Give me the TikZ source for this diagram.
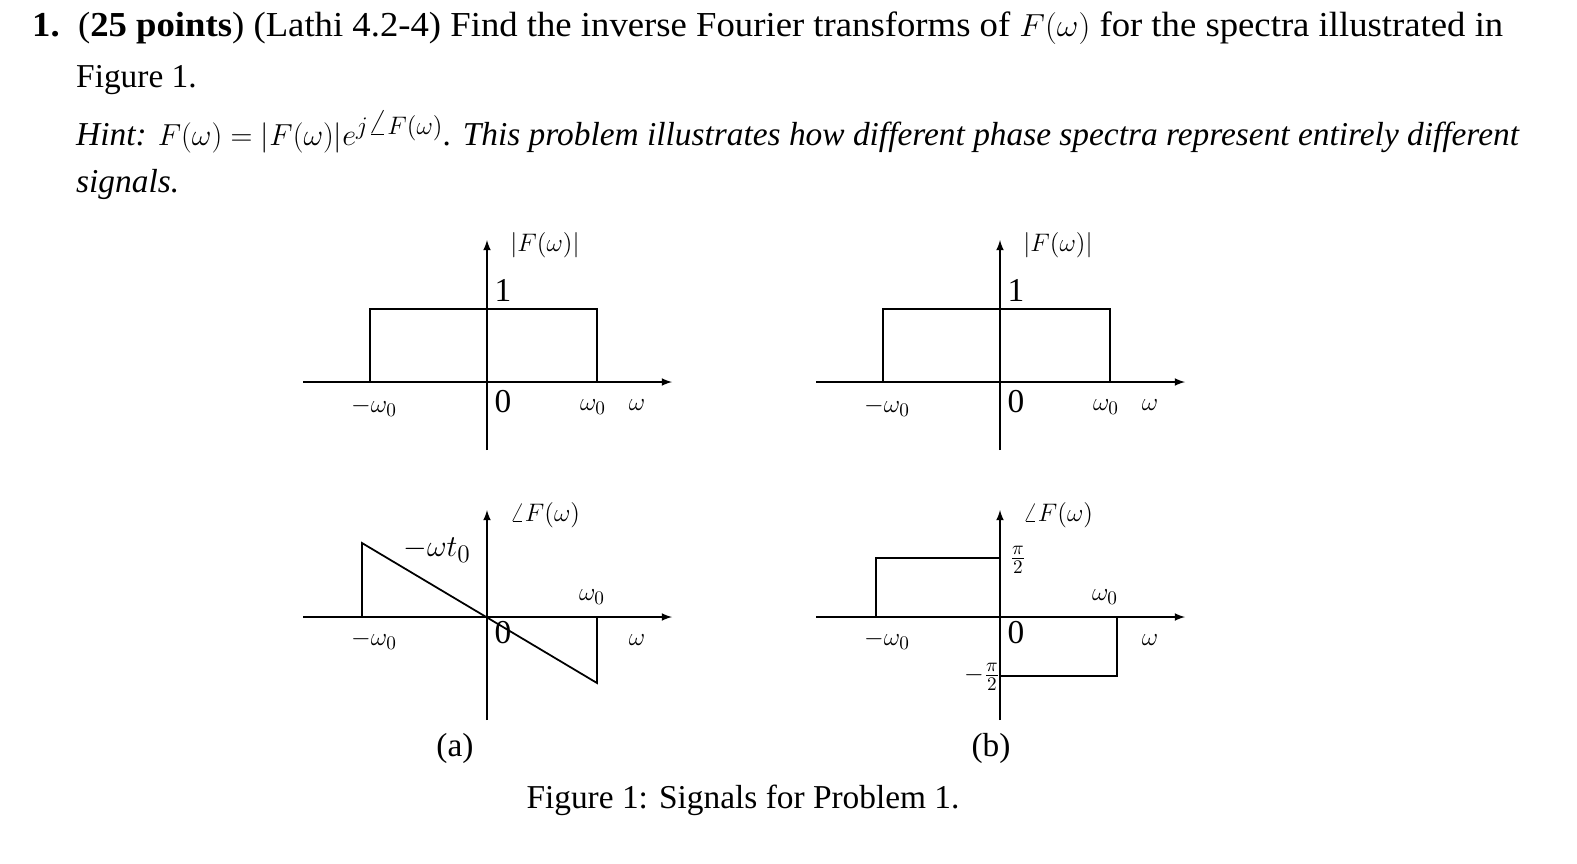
\documentclass[tikz,border=0pt]{standalone}
\usepackage{fontspec}
\setmainfont{Liberation Serif}
\begin{document}
\begin{tikzpicture}[x=0.02cm,y=-0.02cm,
  ax/.style={line width=1pt,-latex},
  ln/.style={line width=1pt},
  big/.style={font=\fontsize{19}{22}\selectfont},
  lab/.style={font=\fontsize{15}{18}\selectfont}]
\useasboundingbox (0,0) rectangle (1577,863);
% text
\node[big,anchor=west] (l1) at (26,28) {\scalebox{1.1}[1.05]{\textbf{1.}\ \ (\textbf{25 points}) (Lathi 4.2-4) Find the inverse Fourier transforms of $F(\omega)$ for the spectra illustrated in}};
\node[big,anchor=west] (l2) at (70,80) {Figure 1.};
\node[big,anchor=west] (l3) at (70,132) {\itshape Hint: $F(\omega)=|F(\omega)|e^{j\angle F(\omega)}$. This problem illustrates how different phase spectra represent entirely different};
\node[big,anchor=west] (l4) at (70,184) {\itshape signals.};
\foreach \d/\n in {0/a,513/b}{
 \begin{scope}[xshift=\d*0.02cm]
 \coordinate (m\n b) at (487,450); \coordinate (m\n t) at (487,240);
 \coordinate (m\n l) at (303,382); \coordinate (m\n r) at (672,382);
 \draw[ax] (m\n b) -- (m\n t);
 \draw[ax] (m\n l) -- (m\n r);
 \draw[ln] (370,382) -- (370,309) -- (597,309) -- (597,382);
 \node[lab] (ma\n) at (545,245) {$|F(\omega)|$};
 \node[big] (mo\n) at (503,290) {1};
 \node[lab] (mw\n) at (374,407) {$-\omega_0$};
 \node[big] (mz\n) at (503,402) {0};
 \node[lab] (mp\n) at (593,407) {$\omega_0$};
 \node[lab] (mo2\n) at (637,405) {$\omega$};
 \coordinate (p\n b) at (487,720); \coordinate (p\n t) at (487,510);
 \coordinate (p\n l) at (303,617); \coordinate (p\n r) at (672,617);
 \draw[ax] (p\n b) -- (p\n t);
 \draw[ax] (p\n l) -- (p\n r);
 \node[lab] (pa\n) at (545,515) {$\angle F(\omega)$};
 \node[lab] (pw\n) at (374,640) {$-\omega_0$};
 \node[lab] (pp\n) at (592,597) {$\omega_0$};
 \node[lab] (po\n) at (637,640) {$\omega$};
 \end{scope}}
% (a) phase
\draw[ln] (362,617) -- (362,543) -- (597,683) -- (597,617);
\node[font=\fontsize{19}{22}\selectfont] (ta) at (437,550) {$-\omega t_0$};
\node[big] (za) at (503,633) {0};
\node[big] (ca) at (455,748) {(a)};
% (b) phase
\draw[ln] (876,617) -- (876,558) -- (1000,558);
\draw[ln] (1000,676) -- (1117,676) -- (1117,617);
\node[lab] (hb) at (1018,560) {$\frac{\pi}{2}$};
\node[lab] (nb) at (982,677) {$-\frac{\pi}{2}$};
\node[big] (zb) at (1016,633) {0};
\node[big] (cb) at (991,748) {(b)};
\node[big] (cap) at (743,800) {Figure 1: Signals for Problem 1.};
\end{tikzpicture}
\end{document}
